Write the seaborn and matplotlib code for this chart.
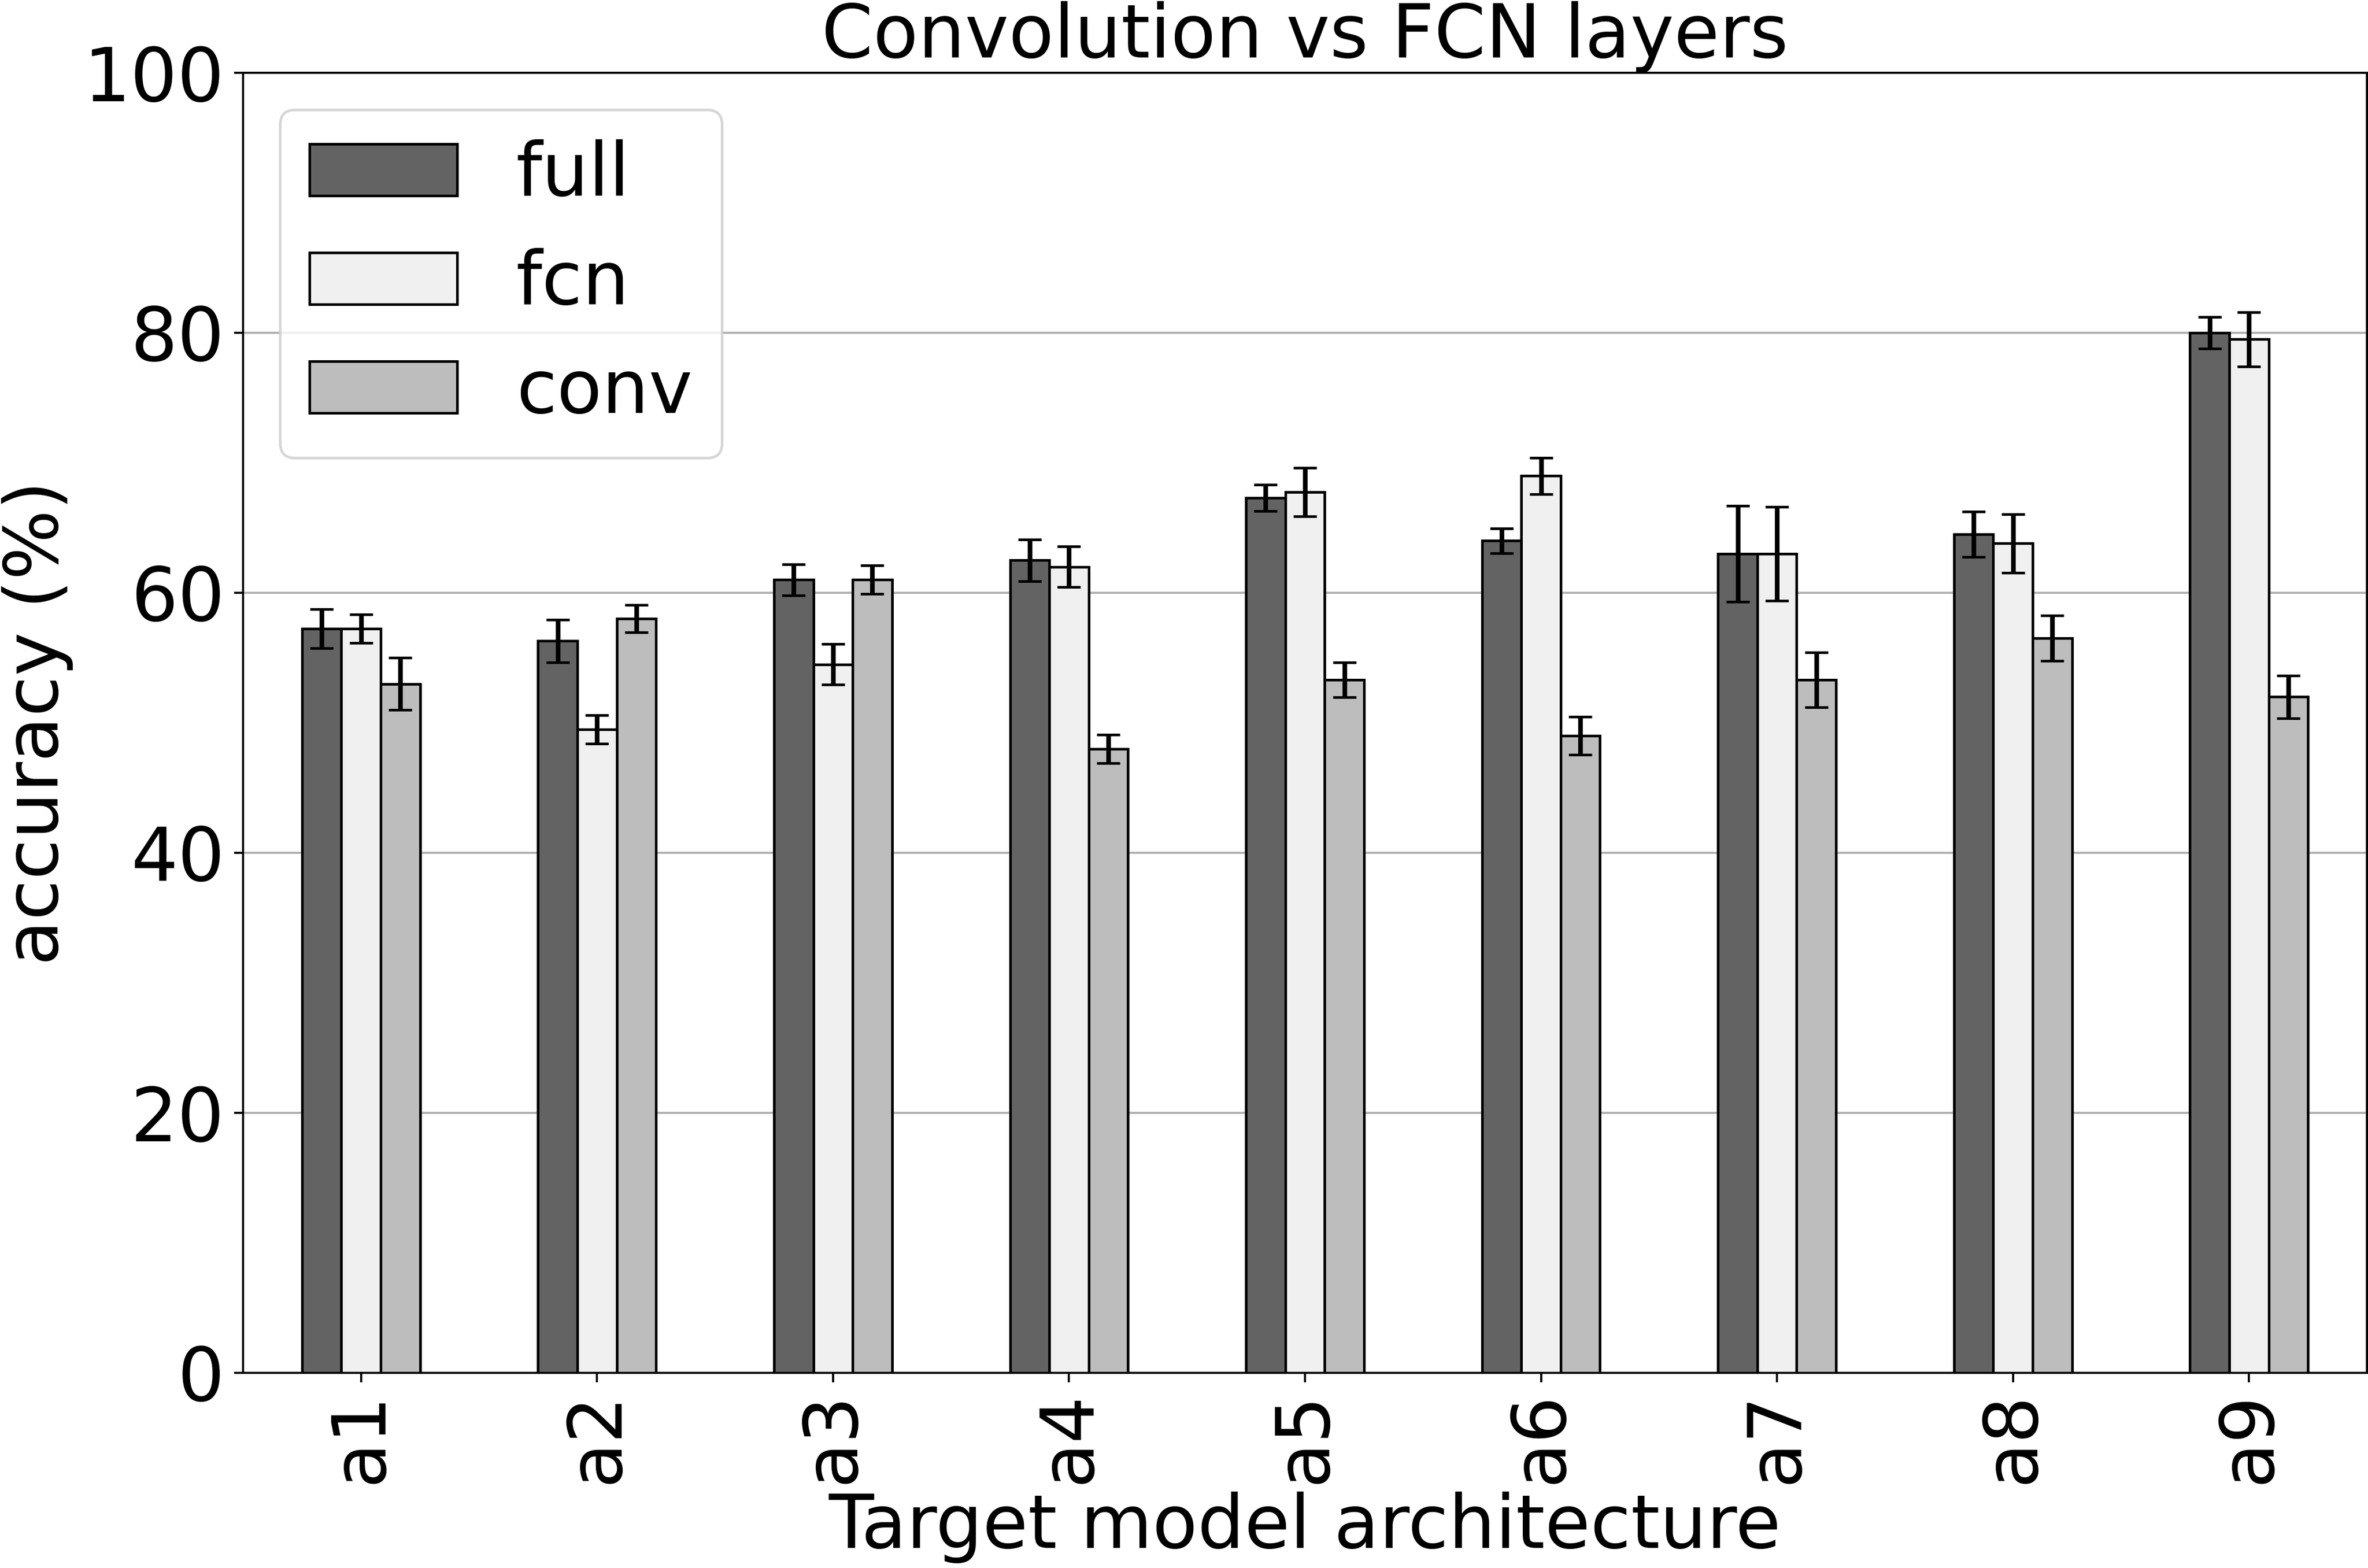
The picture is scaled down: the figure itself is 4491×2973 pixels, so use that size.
import pandas as pd
import matplotlib
matplotlib.use('Agg')
import matplotlib.pyplot as plt
import seaborn as sns

archs = ['a1', 'a2', 'a3', 'a4', 'a5', 'a6', 'a7', 'a8', 'a9']
kinds = ['full', 'fcn', 'conv']

full = [57.25, 56.3, 61.0, 62.5, 67.3, 64.0, 63.0, 64.5, 80.0]
full_err = [1.5, 1.65, 1.2, 1.6, 1.0, 0.95, 3.7, 1.75, 1.2]
fcn = [57.25, 49.5, 54.5, 62.0, 67.75, 69.0, 63.0, 63.8, 79.5]
fcn_err = [1.1, 1.1, 1.55, 1.55, 1.85, 1.4, 3.6, 2.25, 2.1]
conv = [53.0, 58.0, 61.0, 48.0, 53.3, 49.0, 53.3, 56.5, 52.0]
conv_err = [2.0, 1.05, 1.1, 1.1, 1.35, 1.45, 2.1, 1.75, 1.65]

colors = ['#636363', '#f0f0f0', '#bdbdbd']

rows = []
for kind, vals in zip(kinds, [full, fcn, conv]):
    for a, v in zip(archs, vals):
        rows.append({'arch': a, 'kind': kind, 'acc': v})
df = pd.DataFrame(rows)
errs = [full_err, fcn_err, conv_err]

plt.rcParams['font.size'] = 28
plt.rcParams['font.family'] = ['DejaVu Sans']

dpi = 360
fig = plt.figure(figsize=(4491 / dpi, 2973 / dpi), dpi=dpi)
ax = fig.add_axes([461 / 4491, 1 - 2603 / 2973, (4489 - 461) / 4491, (2603 - 138) / 2973])

sns.barplot(data=df, x='arch', y='acc', hue='kind', palette=colors, width=0.5,
            edgecolor='black', linewidth=1, errorbar=None, ax=ax)

# error bars on top of each bar
for cont, err in zip(ax.containers, errs):
    xs = [b.get_x() + b.get_width() / 2 for b in cont]
    ys = [b.get_height() for b in cont]
    ax.errorbar(xs, ys, yerr=err, fmt='none', ecolor='black',
                elinewidth=1.75, capsize=4.4, capthick=1)

ax.set_xlim(-0.5, len(archs) - 0.5)
ax.set_ylim(0, 100)
ax.set_yticks([0, 20, 40, 60, 80, 100])
ax.yaxis.grid(True, color='#b0b0b0', linewidth=0.8)
ax.set_axisbelow(True)
ax.tick_params(axis='x', labelrotation=90)
ax.set_xlabel('Target model architecture', labelpad=3)
ax.set_ylabel('accuracy (%)')
ax.set_title('Convolution vs FCN layers', fontsize=28, pad=0.5)

handles, labels = ax.get_legend_handles_labels()
ax.legend(handles, labels, loc='upper left')

fig.savefig('out.png', dpi=dpi)
